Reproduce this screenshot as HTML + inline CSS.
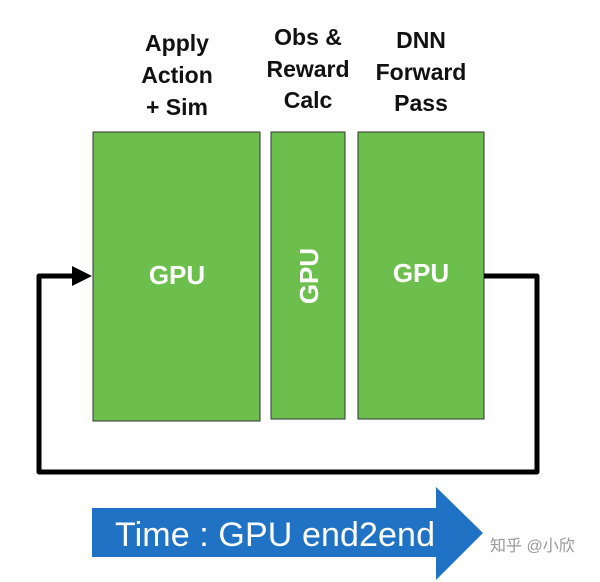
<!DOCTYPE html>
<html><head><meta charset="utf-8"><style>
html,body{margin:0;padding:0;background:#fff;}
body{width:600px;height:582px;position:relative;overflow:hidden;}
svg{position:absolute;left:0;top:0;}
</style></head><body>
<svg width="600" height="582" viewBox="0 0 600 582" xmlns="http://www.w3.org/2000/svg">
<g font-family="Liberation Sans, sans-serif" font-weight="bold" font-size="23" fill="#111" text-anchor="middle">
<text x="177" y="51">Apply</text>
<text x="177" y="83">Action</text>
<text x="177" y="115">+ Sim</text>
<text x="308" y="45">Obs &amp;</text>
<text x="308" y="77">Reward</text>
<text x="308" y="108">Calc</text>
<text x="421" y="48">DNN</text>
<text x="421" y="80">Forward</text>
<text x="421" y="111">Pass</text>
</g>
<rect x="93" y="132" width="167" height="289" fill="#6cbf4c" stroke="#333" stroke-width="1"/>
<rect x="271" y="132" width="74" height="287" fill="#6cbf4c" stroke="#333" stroke-width="1"/>
<rect x="358" y="132" width="126" height="287" fill="#6cbf4c" stroke="#333" stroke-width="1"/>
<g font-family="Liberation Sans, sans-serif" font-weight="bold" font-size="26" fill="#fff" text-anchor="middle">
<text x="177" y="284">GPU</text>
<text x="421" y="282">GPU</text>
<text x="0" y="0" transform="translate(318,276) rotate(-90)">GPU</text>
</g>
<polyline points="484,276 537,276 537,472 39,472 39,276 76,276" fill="none" stroke="#000" stroke-width="5" stroke-linejoin="round"/>
<polygon points="72,266 92,276 72,286" fill="#000"/>
<polygon points="92,508 436,508 436,487 483,533 436,580 436,557 92,557" fill="#1f72c4"/>
<text x="115" y="546" font-family="Liberation Sans, sans-serif" font-size="34" textLength="320" fill="#fff">Time : GPU end2end</text>
<text x="490" y="551" font-family="Liberation Sans, 'Noto Sans CJK SC', sans-serif" font-size="16" fill="#999">知乎 @小欣</text>
</svg>
</body></html>
